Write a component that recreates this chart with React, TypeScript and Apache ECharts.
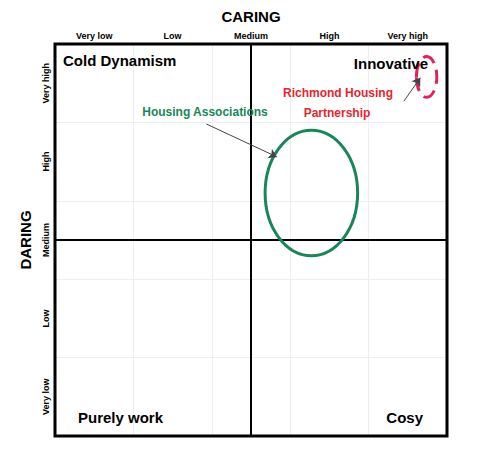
import React, { useEffect, useRef } from "react";
import * as echarts from "echarts";

const xLabels = ["Very low", "Low", "Medium", "High", "Very high"];
const yLabels = ["Very low", "Low", "Medium", "High", "Very high"];

// quadrant dividers sit at the middle of "Medium"
const midCaring = 2.5;
const midDaring = 2.5;

// [centre x, centre y, radius x, radius y] in axis units
const housingEllipse = [3.27, 3.1, 0.59, 0.8];
const richmondEllipse = [4.74, 4.58, 0.13, 0.26];

const housingArrow = [
  [1.93, 3.98],
  [2.83, 3.56],
];
const richmondArrow = [
  [4.45, 4.27],
  [4.66, 4.57],
];

const FONT = "'Liberation Sans', Arial, sans-serif";
const GREEN = "#17875a";
const RED = "#e3262f";

const ellipseSeries = (row: number[], color: string, dash?: number[]) => ({
  type: "custom",
  xAxisIndex: 0,
  yAxisIndex: 0,
  data: [row],
  z: 5,
  renderItem: (_params: any, api: any) => {
    const c = api.coord([api.value(0), api.value(1)]);
    const s = api.size([api.value(2), api.value(3)]);
    return {
      type: "ellipse",
      shape: { cx: c[0], cy: c[1], rx: s[0], ry: s[1] },
      style: {
        fill: "none",
        stroke: color,
        lineWidth: 3,
        lineDash: dash,
      },
    };
  },
});

const App: React.FC = () => {
  const chartRef = useRef<HTMLDivElement>(null);

  useEffect(() => {
    document.body.style.margin = "0";
    if (!chartRef.current) return;
    const chart = echarts.init(chartRef.current, undefined, { renderer: "svg" });

    const labelStyle = { fontFamily: FONT, fontWeight: "bold" as const, fontSize: 9, color: "#000" };
    const nameStyle = { fontFamily: FONT, fontWeight: "bold" as const, fontSize: 15, color: "#000" };
    const gridLine = {
      showMinLine: false,
      showMaxLine: false,
      lineStyle: { color: "#eeeeee", width: 1 },
    };
    const quadText = (text: string, x: number, y: number, align: string, fill = "#000", size = 15) => ({
      type: "text",
      x,
      y,
      z: 10,
      style: {
        text,
        fill,
        font: `bold ${size}px ${FONT}`,
        align,
        verticalAlign: "middle",
      },
    });

    const option: echarts.EChartsOption = {
      animation: false,
      backgroundColor: "#fff",
      grid: {
        left: 55,
        top: 44,
        width: 392,
        height: 392,
        show: true,
        z: 10,
        borderColor: "#000",
        borderWidth: 3,
      },
      xAxis: [
        {
          type: "value",
          min: 0,
          max: 5,
          interval: 1,
          position: "top",
          axisLine: { show: false },
          axisTick: { show: false },
          axisLabel: { show: false },
          splitLine: gridLine,
        },
        {
          type: "category",
          data: xLabels,
          position: "top",
          boundaryGap: true,
          axisLine: { show: false },
          axisTick: { show: false },
          splitLine: { show: false },
          axisLabel: { ...labelStyle, interval: 0, margin: 4 },
          name: "CARING",
          nameLocation: "middle",
          nameGap: 20,
          nameTextStyle: nameStyle,
        },
      ],
      yAxis: [
        {
          type: "value",
          min: 0,
          max: 5,
          interval: 1,
          axisLine: { show: false },
          axisTick: { show: false },
          axisLabel: { show: false },
          splitLine: gridLine,
        },
        {
          type: "category",
          data: yLabels,
          position: "left",
          boundaryGap: true,
          axisLine: { show: false },
          axisTick: { show: false },
          splitLine: { show: false },
          axisLabel: { ...labelStyle, interval: 0, rotate: 90, margin: 5 },
          name: "DARING",
          nameLocation: "middle",
          nameGap: 20,
          nameRotate: 90,
          nameTextStyle: nameStyle,
        },
      ],
      series: [
        {
          ...ellipseSeries(housingEllipse, GREEN),
          markLine: {
            silent: true,
            symbol: "none",
            label: { show: false },
            lineStyle: { color: "#000", width: 2, type: "solid" },
            data: [{ xAxis: midCaring }, { yAxis: midDaring }],
          },
        } as any,
        ellipseSeries(richmondEllipse, "#e0245a", [14, 7]) as any,
        {
          type: "lines",
          coordinateSystem: "cartesian2d",
          xAxisIndex: 0,
          yAxisIndex: 0,
          symbol: ["none", "arrow"],
          symbolSize: 8,
          z: 6,
          lineStyle: { color: "#444", width: 1, opacity: 1 },
          data: [{ coords: housingArrow }, { coords: richmondArrow }],
        } as any,
      ],
      graphic: [
        quadText("Cold Dynamism", 63, 60, "left"),
        quadText("Innovative", 428, 63, "right"),
        quadText("Purely work", 78, 417, "left"),
        quadText("Cosy", 423, 417, "right"),
        quadText("Housing Associations", 205, 112, "center", GREEN, 12),
        quadText("Richmond Housing", 338, 93, "center", RED, 12),
        quadText("Partnership", 337, 113, "center", RED, 12),
      ] as any,
    };

    chart.setOption(option);
    return () => chart.dispose();
  }, []);

  return <div ref={chartRef} style={{ width: 487, height: 462 }} />;
};

export default App;
